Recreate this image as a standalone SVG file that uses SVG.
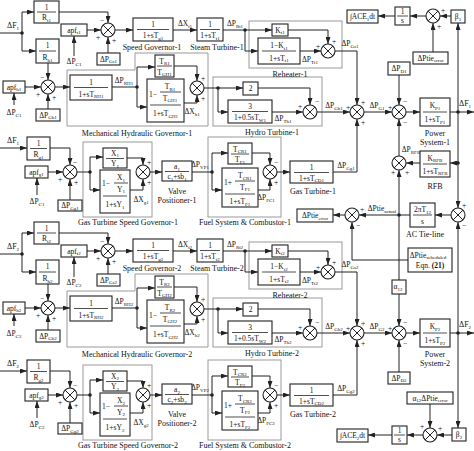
<svg xmlns="http://www.w3.org/2000/svg" width="474" height="451" viewBox="0 0 474 451">
<style>
text{font-family:"Liberation Serif","Times New Roman",serif;font-size:7.5px;fill:#111}
.c{text-anchor:middle}
.l{font-size:8px}
.s{font-size:5px}
.g{font-size:7px}
.bx{fill:#fff;stroke:#222;stroke-width:1.1}
.gr{fill:none;stroke:#9a9a9a;stroke-width:1}
.w{fill:none;stroke:#222;stroke-width:1}
.a{marker-end:url(#ah)}
.fl{stroke:#222;stroke-width:0.8}
.d{fill:#222}
</style>
<defs>
<marker id="ah" viewBox="0 0 7 5" refX="7" refY="2.5" markerWidth="7" markerHeight="5" orient="auto" markerUnits="userSpaceOnUse"><path d="M0,0L7,2.5L0,5z" fill="#222"/></marker>
<g id="sj"><circle r="7" fill="#fff" stroke="#222" stroke-width="1.1"/><path d="M-4.9,-4.9L4.9,4.9M-4.9,4.9L4.9,-4.9" stroke="#222" stroke-width="1"/></g>
</defs>
<rect width="474" height="451" fill="#fff"/>

<g id="groups">
<rect class="gr" x="249" y="21" width="93" height="47"/>
<polygon class="gr" points="67,70 135,70 135,53 208,53 208,126 67,126"/>
<rect class="gr" x="213" y="77" width="109" height="49"/>
<rect class="gr" x="83" y="142" width="69" height="75"/>
<rect class="gr" x="208" y="137" width="73" height="80"/>
<rect class="gr" x="249" y="242" width="93" height="47"/>
<polygon class="gr" points="67,291 135,291 135,274 208,274 208,347 67,347"/>
<rect class="gr" x="213" y="298" width="109" height="49"/>
<rect class="gr" x="83" y="365" width="69" height="75"/>
<rect class="gr" x="208" y="360" width="73" height="80"/>
</g>

<g id="connectors">
<path class="w" d="M0,33H22M22,12V51"/>
<path class="w a" d="M22,12H34"/><path class="w a" d="M22,51H36"/>
<path class="w a" d="M59,12H108V23"/><path class="w a" d="M87,30H101"/>
<path class="w a" d="M74,56V36"/><path class="w a" d="M108,53V37"/>
<path class="w a" d="M115,30H133"/><path class="w a" d="M173,30H197"/>
<path class="w" d="M223,30H245"/><path class="w a" d="M245,30H272"/>
<path class="w a" d="M245,30V51H258"/><path class="w a" d="M288,30H328V44"/>
<path class="w a" d="M300,51H321"/><path class="w a" d="M335,51H357V105"/>
<path class="w a" d="M48,63V80"/><path class="w a" d="M25,87H41"/>
<path class="w a" d="M14,105V93"/><path class="w a" d="M48,109V94"/>
<path class="w a" d="M55,87H70"/><path class="w" d="M112,87H137"/>
<path class="w a" d="M137,87V67H155"/><path class="w a" d="M137,87V107H147"/>
<path class="w a" d="M174,66H197V81"/><path class="w a" d="M184,103H197V95"/>
<path class="w a" d="M204,88H243"/><path class="w a" d="M218,88V112H228"/>
<path class="w a" d="M258,88H310V105"/><path class="w a" d="M272,112H303"/>
<path class="w a" d="M317,112H350"/>
<path class="w a" d="M0,148H27"/><path class="w a" d="M50,148H70V165"/>
<path class="w a" d="M48,172H63"/><path class="w a" d="M37,195V178"/>
<path class="w a" d="M70,200V179"/><path class="w" d="M77,172H90"/>
<path class="w a" d="M90,172V157H103"/><path class="w a" d="M90,172V190H100"/>
<path class="w a" d="M127,158H143V165"/><path class="w a" d="M130,190H143V179"/>
<path class="w a" d="M150,172H162"/><path class="w" d="M192,172H212"/>
<path class="w a" d="M212,172V153H228"/><path class="w a" d="M212,172V190H222"/>
<path class="w a" d="M252,153H270V165"/><path class="w a" d="M258,190H270V179"/>
<path class="w a" d="M277,172H290"/><path class="w a" d="M333,172H357V119"/>
<path class="w a" d="M364,112H392"/><path class="w a" d="M399,75V105"/>
<path class="w a" d="M406,112H420"/><path class="w a" d="M450,112H474"/>
<path class="w a" d="M458,112V23"/><path class="w a" d="M451,16H440"/>
<path class="w a" d="M426,16H410"/><path class="w a" d="M395,16H378"/>
<path class="w a" d="M433,52V23"/><path class="w a" d="M458,112V208"/>
<path class="w a" d="M458,163H450"/><path class="w a" d="M420,163H406"/>
<path class="w a" d="M399,156V119"/><path class="w a" d="M399,215V170"/>
<path class="w a" d="M399,215H359"/><path class="w a" d="M345,215H333"/>
<path class="w" d="M410,215H399"/><path class="w a" d="M451,215H435"/>
<path class="w a" d="M458,333V222"/><path class="w a" d="M408,260H352V222"/>
<path class="w a" d="M399,215V326"/>
<path class="w" d="M0,254H22M22,233V272"/>
<path class="w a" d="M22,233H34"/><path class="w a" d="M22,272H36"/>
<path class="w a" d="M59,233H108V244"/><path class="w a" d="M87,251H101"/>
<path class="w a" d="M74,277V257"/><path class="w a" d="M108,274V258"/>
<path class="w a" d="M115,251H133"/><path class="w a" d="M173,251H197"/>
<path class="w" d="M223,251H245"/><path class="w a" d="M245,251H272"/>
<path class="w a" d="M245,251V272H258"/><path class="w a" d="M288,251H328V265"/>
<path class="w a" d="M300,272H321"/><path class="w a" d="M335,272H357V326"/>
<path class="w a" d="M48,284V301"/><path class="w a" d="M25,308H41"/>
<path class="w a" d="M14,326V314"/><path class="w a" d="M48,330V315"/>
<path class="w a" d="M55,308H70"/><path class="w" d="M112,308H137"/>
<path class="w a" d="M137,308V288H155"/><path class="w a" d="M137,308V328H147"/>
<path class="w a" d="M174,287H197V302"/><path class="w a" d="M184,324H197V316"/>
<path class="w a" d="M204,309H243"/><path class="w a" d="M218,309V333H228"/>
<path class="w a" d="M258,309H310V326"/><path class="w a" d="M272,333H303"/>
<path class="w a" d="M317,333H350"/>
<path class="w a" d="M0,371H27"/><path class="w a" d="M50,371H70V388"/>
<path class="w a" d="M48,395H63"/><path class="w a" d="M37,418V401"/>
<path class="w a" d="M70,423V402"/><path class="w" d="M77,395H90"/>
<path class="w a" d="M90,395V380H103"/><path class="w a" d="M90,395V413H100"/>
<path class="w a" d="M127,381H143V388"/><path class="w a" d="M130,413H143V402"/>
<path class="w a" d="M150,395H162"/><path class="w" d="M192,395H212"/>
<path class="w a" d="M212,395V376H228"/><path class="w a" d="M212,395V413H222"/>
<path class="w a" d="M252,376H270V388"/><path class="w a" d="M258,413H270V402"/>
<path class="w a" d="M277,395H290"/><path class="w a" d="M333,395H357V340"/>
<path class="w a" d="M364,333H392"/><path class="w a" d="M399,372V340"/>
<path class="w a" d="M406,333H420"/><path class="w a" d="M450,333H474"/>
<path class="w a" d="M458,333V428"/><path class="w a" d="M452,435H437"/>
<path class="w a" d="M430,404V428"/><path class="w a" d="M423,435H407"/>
<path class="w a" d="M392,435H368"/>
<g class="d">
<circle cx="22" cy="33" r="1.8"/><circle cx="245" cy="30" r="1.8"/><circle cx="137" cy="87" r="1.8"/><circle cx="218" cy="88" r="1.8"/><circle cx="90" cy="172" r="1.8"/><circle cx="212" cy="172" r="1.8"/><circle cx="458" cy="112" r="1.8"/><circle cx="458" cy="163" r="1.8"/><circle cx="399" cy="215" r="1.8"/>
<circle cx="22" cy="254" r="1.8"/><circle cx="245" cy="251" r="1.8"/><circle cx="137" cy="308" r="1.8"/><circle cx="218" cy="309" r="1.8"/><circle cx="90" cy="395" r="1.8"/><circle cx="212" cy="395" r="1.8"/><circle cx="458" cy="333" r="1.8"/>
</g>
</g>

<g id="wire-labels">
<text x="7" y="28" class="l">ΔF<tspan class="s" dy="1.5">1</tspan></text>
<text x="7" y="143" class="l">ΔF<tspan class="s" dy="1.5">1</tspan></text>
<text class="c" x="74" y="64">ΔP<tspan class="s" dy="1.5">C1</tspan></text>
<text class="c" x="14" y="115">ΔP<tspan class="s" dy="1.5">C1</tspan></text>
<text class="c" x="37" y="204">ΔP<tspan class="s" dy="1.5">C1</tspan></text>
<text class="c" x="185" y="26">ΔX<tspan class="s" dy="1.5">t1</tspan></text>
<text class="c" x="235" y="26">ΔP<tspan class="s" dy="1.5">Rt1</tspan></text>
<text class="c" x="310" y="62">ΔP<tspan class="s" dy="1.5">Tt1</tspan></text>
<text class="c" x="350" y="46">ΔP<tspan class="s" dy="1.5">Gs1</tspan></text>
<text class="c" x="124" y="83">ΔP<tspan class="s" dy="1.5">RH1</tspan></text>
<text class="c" x="192" y="114">ΔX<tspan class="s" dy="1.5">h1</tspan></text>
<text class="c" x="283" y="121">ΔP<tspan class="s" dy="1.5">Th1</tspan></text>
<text class="c" x="334" y="108">ΔP<tspan class="s" dy="1.5">Gh1</tspan></text>
<text class="c" x="377" y="108">ΔP<tspan class="s" dy="1.5">G1</tspan></text>
<text x="459" y="106" class="l">ΔF<tspan class="s" dy="1.5">1</tspan></text>
<text class="c" x="200" y="167">ΔP<tspan class="s" dy="1.5">VP1</tspan></text>
<text class="c" x="141" y="202">ΔX<tspan class="s" dy="1.5">g1</tspan></text>
<text class="c" x="266" y="200">ΔP<tspan class="s" dy="1.5">FC1</tspan></text>
<text class="c" x="346" y="168">ΔP<tspan class="s" dy="1.5">Gg1</tspan></text>
<text class="c" x="411" y="152">ΔP<tspan class="s" dy="1.5">RFB</tspan></text>
<text class="c" x="382" y="211">ΔPtie<tspan class="s" dy="1.5">actual</tspan></text>
<text x="7" y="249" class="l">ΔF<tspan class="s" dy="1.5">2</tspan></text>
<text x="7" y="366" class="l">ΔF<tspan class="s" dy="1.5">2</tspan></text>
<text class="c" x="74" y="285">ΔP<tspan class="s" dy="1.5">C2</tspan></text>
<text class="c" x="14" y="336">ΔP<tspan class="s" dy="1.5">C2</tspan></text>
<text class="c" x="37" y="427">ΔP<tspan class="s" dy="1.5">C2</tspan></text>
<text class="c" x="185" y="247">ΔX<tspan class="s" dy="1.5">t2</tspan></text>
<text class="c" x="235" y="247">ΔP<tspan class="s" dy="1.5">Rt2</tspan></text>
<text class="c" x="310" y="283">ΔP<tspan class="s" dy="1.5">Tt2</tspan></text>
<text class="c" x="350" y="267">ΔP<tspan class="s" dy="1.5">Gs2</tspan></text>
<text class="c" x="124" y="304">ΔP<tspan class="s" dy="1.5">RH2</tspan></text>
<text class="c" x="192" y="335">ΔX<tspan class="s" dy="1.5">h2</tspan></text>
<text class="c" x="283" y="342">ΔP<tspan class="s" dy="1.5">Th2</tspan></text>
<text class="c" x="334" y="329">ΔP<tspan class="s" dy="1.5">Gh2</tspan></text>
<text class="c" x="377" y="329">ΔP<tspan class="s" dy="1.5">G2</tspan></text>
<text x="459" y="327" class="l">ΔF<tspan class="s" dy="1.5">2</tspan></text>
<text class="c" x="200" y="390">ΔP<tspan class="s" dy="1.5">VP2</tspan></text>
<text class="c" x="141" y="425">ΔX<tspan class="s" dy="1.5">g2</tspan></text>
<text class="c" x="266" y="423">ΔP<tspan class="s" dy="1.5">FC2</tspan></text>
<text class="c" x="346" y="391">ΔP<tspan class="s" dy="1.5">Gg2</tspan></text>
</g>

<g id="block-labels">
<text class="c l" x="152" y="50">Speed Governor-1</text>
<text class="c l" x="217" y="50">Steam Turbine-1</text>
<text class="c l" x="290" y="77">Reheater-1</text>
<text class="c l" x="137" y="136">Mechanical Hydraulic Governor-1</text>
<text class="c l" x="272" y="135">Hydro Turbine-1</text>
<text class="c l" x="435" y="136">Power</text>
<text class="c l" x="435" y="145">System-1</text>
<text class="c l" x="435" y="189">RFB</text>
<text class="c l" x="177" y="194">Valve</text>
<text class="c l" x="177" y="203">Positioner-1</text>
<text class="c l" x="313" y="194">Gas Turbine-1</text>
<text class="c l" x="128" y="225">Gas Turbine Speed Governor-1</text>
<text class="c l" x="245" y="225">Fuel System &amp; Combustor-1</text>
<text class="c l" x="425" y="237">AC Tie-line</text>
<text class="c l" x="152" y="271">Speed Governor-2</text>
<text class="c l" x="217" y="271">Steam Turbine-2</text>
<text class="c l" x="290" y="298">Reheater-2</text>
<text class="c l" x="137" y="357">Mechanical Hydraulic Governor-2</text>
<text class="c l" x="272" y="356">Hydro Turbine-2</text>
<text class="c l" x="435" y="357">Power</text>
<text class="c l" x="435" y="366">System-2</text>
<text class="c l" x="177" y="417">Valve</text>
<text class="c l" x="177" y="426">Positioner-2</text>
<text class="c l" x="313" y="417">Gas Turbine-2</text>
<text class="c l" x="128" y="448">Gas Turbine Speed Governor-2</text>
<text class="c l" x="245" y="448">Fuel System &amp; Combustor-2</text>
</g>

<g id="signs" class="g">
<text x="100" y="23">−</text><text x="96" y="40">+</text><text x="112" y="43">+</text>
<text x="40" y="80">−</text><text x="36" y="97">+</text><text x="52" y="100">+</text>
<text x="201" y="81">+</text><text x="201" y="101">+</text>
<text x="315" y="104">−</text><text x="298" y="109">+</text>
<text x="332" y="44">+</text><text x="316" y="49">+</text>
<text x="361" y="105">+</text><text x="346" y="110">+</text><text x="361" y="125">+</text>
<text x="388" y="110">+</text><text x="403" y="104">−</text><text x="403" y="125">−</text>
<text x="441" y="13">+</text><text x="437" y="29">+</text>
<text x="73" y="165">−</text><text x="58" y="182">+</text><text x="74" y="185">+</text>
<text x="147" y="165">+</text><text x="147" y="185">+</text>
<text x="274" y="165">−</text><text x="274" y="185">+</text>
<text x="391" y="175">+</text><text x="405" y="175">+</text>
<text x="360" y="212">+</text><text x="356" y="228">−</text>
<text x="462" y="208">+</text><text x="462" y="228">−</text>
<text x="100" y="244">−</text><text x="96" y="261">+</text><text x="112" y="264">+</text>
<text x="40" y="301">−</text><text x="36" y="318">+</text><text x="52" y="321">+</text>
<text x="201" y="302">+</text><text x="201" y="322">+</text>
<text x="315" y="325">−</text><text x="298" y="330">+</text>
<text x="332" y="265">+</text><text x="316" y="270">+</text>
<text x="361" y="326">+</text><text x="346" y="331">+</text><text x="361" y="346">+</text>
<text x="388" y="331">+</text><text x="403" y="325">−</text><text x="403" y="346">−</text>
<text x="73" y="388">−</text><text x="58" y="405">+</text><text x="74" y="408">+</text>
<text x="147" y="388">+</text><text x="147" y="408">+</text>
<text x="274" y="388">−</text><text x="274" y="408">+</text>
<text x="420" y="429">+</text><text x="438" y="431">+</text>
</g>

<g id="sums">
<use href="#sj" x="108" y="30"/><use href="#sj" x="48" y="87"/><use href="#sj" x="197" y="88"/><use href="#sj" x="310" y="112"/><use href="#sj" x="328" y="51"/><use href="#sj" x="357" y="112"/><use href="#sj" x="399" y="112"/><use href="#sj" x="433" y="16"/><use href="#sj" x="70" y="172"/><use href="#sj" x="143" y="172"/><use href="#sj" x="270" y="172"/><use href="#sj" x="399" y="163"/><use href="#sj" x="352" y="215"/><use href="#sj" x="458" y="215"/>
<use href="#sj" x="108" y="251"/><use href="#sj" x="48" y="308"/><use href="#sj" x="197" y="309"/><use href="#sj" x="310" y="333"/><use href="#sj" x="328" y="272"/><use href="#sj" x="357" y="333"/><use href="#sj" x="399" y="333"/><use href="#sj" x="430" y="435"/><use href="#sj" x="70" y="395"/><use href="#sj" x="143" y="395"/><use href="#sj" x="270" y="395"/>
</g>

<g id="rt1"><rect class="bx" x="34" y="1" width="25" height="22"/><text class="c" x="46.5" y="9.5">1</text><line class="fl" x1="37" y1="12" x2="56" y2="12"/><text class="c" x="46.5" y="20">R<tspan class="s" dy="1.5">t1</tspan></text></g>
<g id="rh1"><rect class="bx" x="36" y="39" width="23" height="24"/><text class="c" x="47.5" y="48">1</text><line class="fl" x1="39" y1="51" x2="56" y2="51"/><text class="c" x="47.5" y="60">R<tspan class="s" dy="1.5">h1</tspan></text></g>
<g id="apft1"><rect class="bx" x="61" y="24" width="26" height="12"/><text class="c" x="74" y="32.5">apf<tspan class="s" dy="1.5">t1</tspan></text></g>
<g id="dpgs1"><rect class="bx" x="97" y="53" width="23" height="12"/><text class="c" x="108.5" y="61.5">ΔP<tspan class="s" dy="1.5">Gs1</tspan></text></g>
<g id="gov1"><rect class="bx" x="133" y="18" width="40" height="23"/><text class="c" x="153" y="27">1</text><line class="fl" x1="137" y1="29.5" x2="169" y2="29.5"/><text class="c" x="153" y="38">1+sT<tspan class="s" dy="1.5">g1</tspan></text></g>
<g id="st1"><rect class="bx" x="197" y="18" width="26" height="23"/><text class="c" x="210" y="27">1</text><line class="fl" x1="200" y1="29.5" x2="220" y2="29.5"/><text class="c" x="210" y="38">1+sT<tspan class="s" dy="1.5">t1</tspan></text></g>
<g id="kt1"><rect class="bx" x="272" y="24" width="16" height="12"/><text class="c" x="280" y="32.5">K<tspan class="s" dy="1.5">t1</tspan></text></g>
<g id="rht1"><rect class="bx" x="258" y="38" width="42" height="26"/><text class="c" x="279" y="48">1−K<tspan class="s" dy="1.5">t1</tspan></text><line class="fl" x1="262" y1="51" x2="296" y2="51"/><text class="c" x="279" y="60.5">1+sT<tspan class="s" dy="1.5">t1</tspan></text></g>
<g id="apfh1"><rect class="bx" x="3" y="81" width="22" height="12"/><text class="c" x="14" y="89.5">apf<tspan class="s" dy="1.5">h1</tspan></text></g>
<g id="dpgh1"><rect class="bx" x="36" y="109" width="24" height="12"/><text class="c" x="48" y="117.5">ΔP<tspan class="s" dy="1.5">Gh1</tspan></text></g>
<g id="rh1b"><rect class="bx" x="70" y="75" width="42" height="25"/><text class="c" x="91" y="84.5">1</text><line class="fl" x1="74" y1="87.5" x2="108" y2="87.5"/><text class="c" x="91" y="96.5">1+sT<tspan class="s" dy="1.5">RH1</tspan></text></g>
<g id="tr1"><rect class="bx" x="155" y="55" width="19" height="22"/><text class="c" x="164.5" y="63.5">T<tspan class="s" dy="1.5">R1</tspan></text><line class="fl" x1="157" y1="66" x2="172" y2="66"/><text class="c" x="164.5" y="74.5">T<tspan class="s" dy="1.5">GH1</tspan></text></g>
<g id="gh1"><rect class="bx" x="147" y="79" width="37" height="43"/><text x="149" y="97">1−</text><text class="c" x="170" y="89">T<tspan class="s" dy="1.5">R1</tspan></text><line class="fl" x1="160" y1="92" x2="181" y2="92"/><text class="c" x="170" y="100.5">T<tspan class="s" dy="1.5">GH1</tspan></text><line class="fl" x1="150" y1="105" x2="181" y2="105"/><text class="c" x="165.5" y="116">1+sT<tspan class="s" dy="1.5">GH1</tspan></text></g>
<g id="two1"><rect class="bx" x="243" y="82" width="15" height="13"/><text class="c" x="250.5" y="91">2</text></g>
<g id="hw1"><rect class="bx" x="228" y="100" width="44" height="23"/><text class="c" x="250" y="108.5">3</text><line class="fl" x1="232" y1="111.5" x2="268" y2="111.5"/><text class="c" x="250" y="120">1+0.5sT<tspan class="s" dy="1.5">W1</tspan></text></g>
<g id="rg1"><rect class="bx" x="27" y="137" width="23" height="23"/><text class="c" x="38.5" y="145.5">1</text><line class="fl" x1="30" y1="148.5" x2="47" y2="148.5"/><text class="c" x="38.5" y="157">R<tspan class="s" dy="1.5">g1</tspan></text></g>
<g id="apfg1"><rect class="bx" x="25" y="166" width="23" height="12"/><text class="c" x="36.5" y="174.5">apf<tspan class="s" dy="1.5">g1</tspan></text></g>
<g id="dpgg1"><rect class="bx" x="58" y="200" width="24" height="11"/><text class="c" x="70" y="208">ΔP<tspan class="s" dy="1.5">Gg1</tspan></text></g>
<g id="xy1"><rect class="bx" x="103" y="148" width="24" height="20"/><text class="c" x="115" y="155.5">X<tspan class="s" dy="1.5">1</tspan></text><line class="fl" x1="106" y1="158.5" x2="124" y2="158.5"/><text class="c" x="115" y="166">Y<tspan class="s" dy="1.5">1</tspan></text></g>
<g id="gg1"><rect class="bx" x="100" y="170" width="30" height="43"/><text x="102" y="186">1−</text><text class="c" x="121" y="180">X<tspan class="s" dy="1.5">1</tspan></text><line class="fl" x1="114" y1="183" x2="128" y2="183"/><text class="c" x="121" y="191.5">Y<tspan class="s" dy="1.5">1</tspan></text><line class="fl" x1="103" y1="196" x2="127" y2="196"/><text class="c" x="115" y="207">1+sY<tspan class="s" dy="1.5">1</tspan></text></g>
<g id="vp1"><rect class="bx" x="162" y="161" width="30" height="20"/><text class="c" x="177" y="169">a<tspan class="s" dy="1.5">1</tspan></text><line class="fl" x1="165" y1="171.5" x2="189" y2="171.5"/><text class="c" x="177" y="179">c<tspan class="s" dy="1.5">1</tspan><tspan dy="-1.5">+sb</tspan><tspan class="s" dy="1.5">1</tspan></text></g>
<g id="tcr1"><rect class="bx" x="228" y="143" width="24" height="21"/><text class="c" x="240" y="151.5">T<tspan class="s" dy="1.5">CR1</tspan></text><line class="fl" x1="231" y1="154" x2="249" y2="154"/><text class="c" x="240" y="162">T<tspan class="s" dy="1.5">F1</tspan></text></g>
<g id="fc1"><rect class="bx" x="222" y="168" width="36" height="39"/><text x="224" y="185">1+</text><text class="c" x="245" y="178">T<tspan class="s" dy="1.5">CR1</tspan></text><line class="fl" x1="235" y1="181" x2="255" y2="181"/><text class="c" x="245" y="189.5">T<tspan class="s" dy="1.5">F1</tspan></text><line class="fl" x1="225" y1="194" x2="255" y2="194"/><text class="c" x="240" y="204">1+sT<tspan class="s" dy="1.5">F1</tspan></text></g>
<g id="gt1"><rect class="bx" x="290" y="161" width="43" height="22"/><text class="c" x="311.5" y="169.5">1</text><line class="fl" x1="294" y1="172.5" x2="329" y2="172.5"/><text class="c" x="311.5" y="180.5">1+sT<tspan class="s" dy="1.5">CD1</tspan></text></g>
<g id="dpd1"><rect class="bx" x="388" y="62" width="22" height="13"/><text class="c" x="399" y="71">ΔP<tspan class="s" dy="1.5">D1</tspan></text></g>
<g id="kp1"><rect class="bx" x="420" y="98" width="30" height="28"/><text class="c" x="435" y="108">K<tspan class="s" dy="1.5">P1</tspan></text><line class="fl" x1="423" y1="112" x2="447" y2="112"/><text class="c" x="435" y="122">1+sT<tspan class="s" dy="1.5">P1</tspan></text></g>
<g id="b1"><rect class="bx" x="451" y="10" width="14" height="13"/><text class="c" x="458" y="19">β<tspan class="s" dy="1.5">1</tspan></text></g>
<g id="int1"><rect class="bx" x="395" y="7" width="15" height="18"/><text class="c" x="402.5" y="14">1</text><line class="fl" x1="397" y1="16" x2="408" y2="16"/><text class="c" x="402.5" y="23">s</text></g>
<g id="ace1"><rect class="bx" x="347" y="10" width="31" height="13"/><text class="c" x="362.5" y="19">∫ACE<tspan class="s" dy="1.5">1</tspan><tspan dy="-1.5">dt</tspan></text></g>
<g id="tie-err1"><rect class="bx" x="413" y="52" width="35" height="12"/><text class="c" x="430.5" y="60.5">ΔPtie<tspan class="s" dy="1.5">error</tspan></text></g>
<g id="rfb"><rect class="bx" x="420" y="151" width="30" height="26"/><text class="c" x="435" y="160.5">K<tspan class="s" dy="1.5">RFB</tspan></text><line class="fl" x1="423" y1="164" x2="447" y2="164"/><text class="c" x="435" y="173.5">1+sT<tspan class="s" dy="1.5">RFB</tspan></text></g>
<g id="tie-err-a"><rect class="bx" x="297" y="209" width="36" height="13"/><text class="c" x="315" y="218">ΔPtie<tspan class="s" dy="1.5">error</tspan></text></g>
<g id="tie"><rect class="bx" x="410" y="203" width="25" height="24"/><text class="c" x="422.5" y="212">2πT<tspan class="s" dy="1.5">12</tspan></text><line class="fl" x1="413" y1="215" x2="432" y2="215"/><text class="c" x="422.5" y="224">s</text></g>
<g id="tie-sched"><rect class="bx" x="408" y="248" width="44" height="24"/><text class="c" x="428" y="257.5">ΔPtie<tspan class="s" dy="1.5">scheduled</tspan></text><text class="c" x="430" y="268">Eqn. <tspan font-weight="bold">(21)</tspan></text></g>
<g id="a12"><rect class="bx" x="392" y="280" width="14" height="14"/><text class="c" x="398" y="289">α<tspan class="s" dy="1.5">12</tspan></text></g>

<g id="rt2"><rect class="bx" x="34" y="222" width="25" height="22"/><text class="c" x="46.5" y="230.5">1</text><line class="fl" x1="37" y1="233" x2="56" y2="233"/><text class="c" x="46.5" y="241">R<tspan class="s" dy="1.5">t2</tspan></text></g>
<g id="rh2"><rect class="bx" x="36" y="260" width="23" height="24"/><text class="c" x="47.5" y="269">1</text><line class="fl" x1="39" y1="272" x2="56" y2="272"/><text class="c" x="47.5" y="281">R<tspan class="s" dy="1.5">h2</tspan></text></g>
<g id="apft2"><rect class="bx" x="61" y="245" width="26" height="12"/><text class="c" x="74" y="253.5">apf<tspan class="s" dy="1.5">t2</tspan></text></g>
<g id="dpgs2"><rect class="bx" x="97" y="274" width="23" height="12"/><text class="c" x="108.5" y="282.5">ΔP<tspan class="s" dy="1.5">Gs2</tspan></text></g>
<g id="gov2"><rect class="bx" x="133" y="239" width="40" height="23"/><text class="c" x="153" y="248">1</text><line class="fl" x1="137" y1="250.5" x2="169" y2="250.5"/><text class="c" x="153" y="259">1+sT<tspan class="s" dy="1.5">g2</tspan></text></g>
<g id="st2"><rect class="bx" x="197" y="239" width="26" height="23"/><text class="c" x="210" y="248">1</text><line class="fl" x1="200" y1="250.5" x2="220" y2="250.5"/><text class="c" x="210" y="259">1+sT<tspan class="s" dy="1.5">t2</tspan></text></g>
<g id="kt2"><rect class="bx" x="272" y="245" width="16" height="12"/><text class="c" x="280" y="253.5">K<tspan class="s" dy="1.5">t2</tspan></text></g>
<g id="rht2"><rect class="bx" x="258" y="259" width="42" height="26"/><text class="c" x="279" y="269">1−K<tspan class="s" dy="1.5">t2</tspan></text><line class="fl" x1="262" y1="272" x2="296" y2="272"/><text class="c" x="279" y="281.5">1+sT<tspan class="s" dy="1.5">t2</tspan></text></g>
<g id="apfh2"><rect class="bx" x="3" y="302" width="22" height="12"/><text class="c" x="14" y="310.5">apf<tspan class="s" dy="1.5">h2</tspan></text></g>
<g id="dpgh2"><rect class="bx" x="36" y="330" width="24" height="12"/><text class="c" x="48" y="338.5">ΔP<tspan class="s" dy="1.5">Gh2</tspan></text></g>
<g id="rh2b"><rect class="bx" x="70" y="296" width="42" height="25"/><text class="c" x="91" y="305.5">1</text><line class="fl" x1="74" y1="308.5" x2="108" y2="308.5"/><text class="c" x="91" y="317.5">1+sT<tspan class="s" dy="1.5">RH2</tspan></text></g>
<g id="tr2"><rect class="bx" x="155" y="276" width="19" height="22"/><text class="c" x="164.5" y="284.5">T<tspan class="s" dy="1.5">R2</tspan></text><line class="fl" x1="157" y1="287" x2="172" y2="287"/><text class="c" x="164.5" y="295.5">T<tspan class="s" dy="1.5">GH2</tspan></text></g>
<g id="gh2"><rect class="bx" x="147" y="300" width="37" height="43"/><text x="149" y="318">1−</text><text class="c" x="170" y="310">T<tspan class="s" dy="1.5">R2</tspan></text><line class="fl" x1="160" y1="313" x2="181" y2="313"/><text class="c" x="170" y="321.5">T<tspan class="s" dy="1.5">GH2</tspan></text><line class="fl" x1="150" y1="326" x2="181" y2="326"/><text class="c" x="165.5" y="337">1+sT<tspan class="s" dy="1.5">GH2</tspan></text></g>
<g id="two2"><rect class="bx" x="243" y="303" width="15" height="13"/><text class="c" x="250.5" y="312">2</text></g>
<g id="hw2"><rect class="bx" x="228" y="321" width="44" height="23"/><text class="c" x="250" y="329.5">3</text><line class="fl" x1="232" y1="332.5" x2="268" y2="332.5"/><text class="c" x="250" y="341">1+0.5sT<tspan class="s" dy="1.5">W2</tspan></text></g>
<g id="rg2"><rect class="bx" x="27" y="360" width="23" height="23"/><text class="c" x="38.5" y="368.5">1</text><line class="fl" x1="30" y1="371.5" x2="47" y2="371.5"/><text class="c" x="38.5" y="380">R<tspan class="s" dy="1.5">g2</tspan></text></g>
<g id="apfg2"><rect class="bx" x="25" y="389" width="23" height="12"/><text class="c" x="36.5" y="397.5">apf<tspan class="s" dy="1.5">g2</tspan></text></g>
<g id="dpgg2"><rect class="bx" x="58" y="423" width="24" height="11"/><text class="c" x="70" y="431">ΔP<tspan class="s" dy="1.5">Gg2</tspan></text></g>
<g id="xy2"><rect class="bx" x="103" y="371" width="24" height="20"/><text class="c" x="115" y="378.5">X<tspan class="s" dy="1.5">2</tspan></text><line class="fl" x1="106" y1="381.5" x2="124" y2="381.5"/><text class="c" x="115" y="389">Y<tspan class="s" dy="1.5">2</tspan></text></g>
<g id="gg2"><rect class="bx" x="100" y="393" width="30" height="43"/><text x="102" y="409">1−</text><text class="c" x="121" y="403">X<tspan class="s" dy="1.5">2</tspan></text><line class="fl" x1="114" y1="406" x2="128" y2="406"/><text class="c" x="121" y="414.5">Y<tspan class="s" dy="1.5">2</tspan></text><line class="fl" x1="103" y1="419" x2="127" y2="419"/><text class="c" x="115" y="430">1+sY<tspan class="s" dy="1.5">2</tspan></text></g>
<g id="vp2"><rect class="bx" x="162" y="384" width="30" height="20"/><text class="c" x="177" y="392">a<tspan class="s" dy="1.5">2</tspan></text><line class="fl" x1="165" y1="394.5" x2="189" y2="394.5"/><text class="c" x="177" y="402">c<tspan class="s" dy="1.5">2</tspan><tspan dy="-1.5">+sb</tspan><tspan class="s" dy="1.5">2</tspan></text></g>
<g id="tcr2"><rect class="bx" x="228" y="366" width="24" height="21"/><text class="c" x="240" y="374.5">T<tspan class="s" dy="1.5">CR2</tspan></text><line class="fl" x1="231" y1="377" x2="249" y2="377"/><text class="c" x="240" y="385">T<tspan class="s" dy="1.5">F2</tspan></text></g>
<g id="fc2"><rect class="bx" x="222" y="391" width="36" height="39"/><text x="224" y="408">1+</text><text class="c" x="245" y="401">T<tspan class="s" dy="1.5">CR2</tspan></text><line class="fl" x1="235" y1="404" x2="255" y2="404"/><text class="c" x="245" y="412.5">T<tspan class="s" dy="1.5">F2</tspan></text><line class="fl" x1="225" y1="417" x2="255" y2="417"/><text class="c" x="240" y="427">1+sT<tspan class="s" dy="1.5">F2</tspan></text></g>
<g id="gt2"><rect class="bx" x="290" y="384" width="43" height="22"/><text class="c" x="311.5" y="392.5">1</text><line class="fl" x1="294" y1="395.5" x2="329" y2="395.5"/><text class="c" x="311.5" y="403.5">1+sT<tspan class="s" dy="1.5">CD2</tspan></text></g>
<g id="kp2"><rect class="bx" x="420" y="319" width="30" height="28"/><text class="c" x="435" y="329">K<tspan class="s" dy="1.5">P2</tspan></text><line class="fl" x1="423" y1="333" x2="447" y2="333"/><text class="c" x="435" y="343">1+sT<tspan class="s" dy="1.5">P2</tspan></text></g>
<g id="dpd2"><rect class="bx" x="388" y="372" width="22" height="12"/><text class="c" x="399" y="380.5">ΔP<tspan class="s" dy="1.5">D2</tspan></text></g>
<g id="a12err"><rect class="bx" x="407" y="392" width="46" height="12"/><text class="c" x="430" y="400.5">α<tspan class="s" dy="1.5">12</tspan><tspan dy="-1.5">ΔPtie</tspan><tspan class="s" dy="1.5">error</tspan></text></g>
<g id="b2"><rect class="bx" x="452" y="428" width="14" height="13"/><text class="c" x="459" y="437">β<tspan class="s" dy="1.5">2</tspan></text></g>
<g id="int2"><rect class="bx" x="392" y="426" width="15" height="18"/><text class="c" x="399.5" y="433">1</text><line class="fl" x1="394" y1="435" x2="405" y2="435"/><text class="c" x="399.5" y="442">s</text></g>
<g id="ace2"><rect class="bx" x="337" y="429" width="31" height="13"/><text class="c" x="352.5" y="438">∫ACE<tspan class="s" dy="1.5">2</tspan><tspan dy="-1.5">dt</tspan></text></g>
</svg>
